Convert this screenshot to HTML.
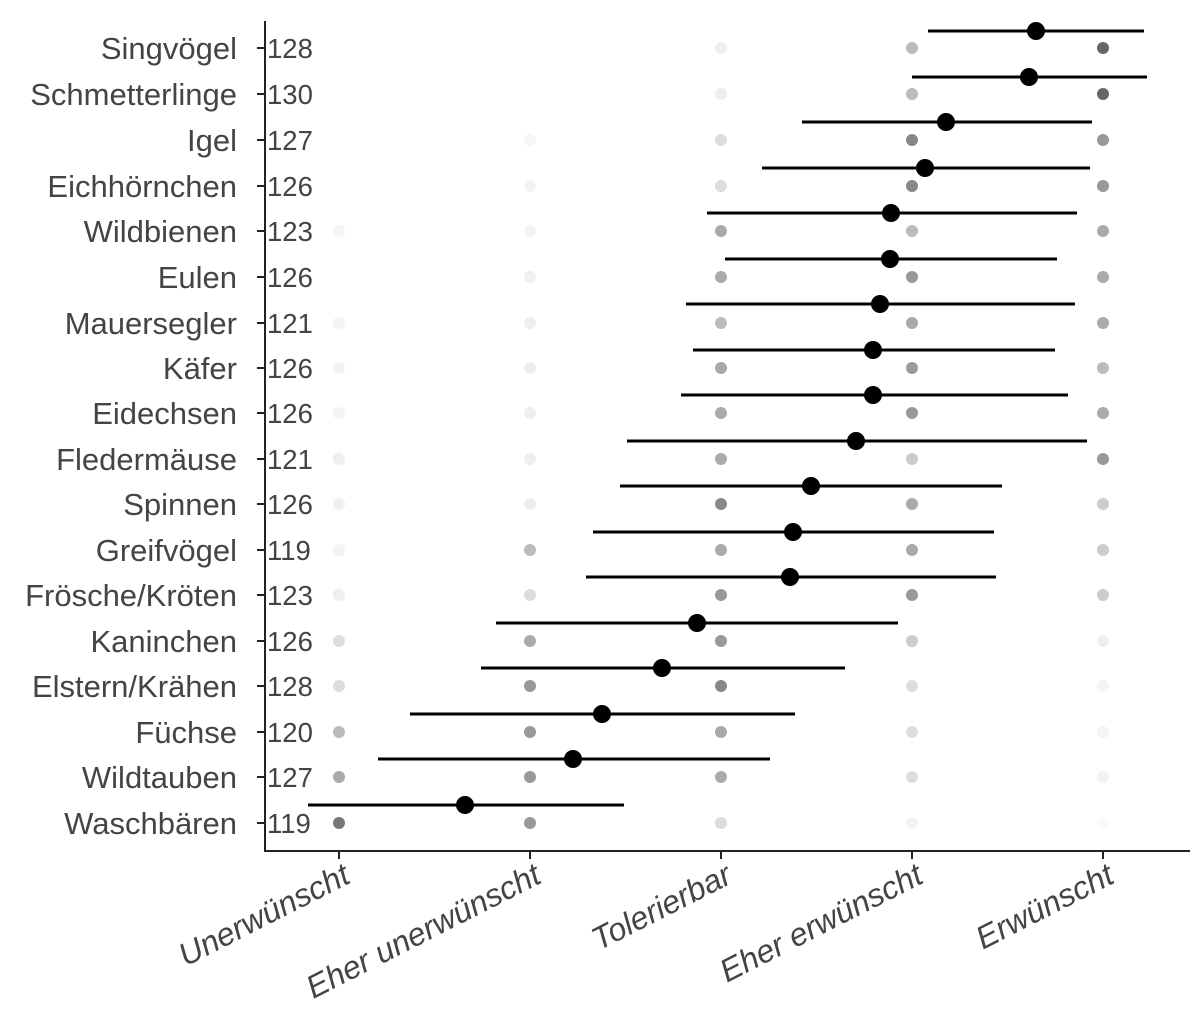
<!DOCTYPE html>
<html><head><meta charset="utf-8"><style>
html,body{margin:0;padding:0;background:#fff;}
svg{display:block;}
.n{font-family:"Liberation Sans",sans-serif;font-size:31px;fill:#444;text-anchor:end;}
.c{font-family:"Liberation Sans",sans-serif;font-size:27.5px;fill:#444;}
.x{font-family:"Liberation Sans",sans-serif;font-size:32px;fill:#444;font-style:italic;text-anchor:end;}
</style></head><body>
<svg width="1200" height="1013" viewBox="0 0 1200 1013" xmlns="http://www.w3.org/2000/svg">
<g stroke="#222" stroke-width="2">
<line x1="265" y1="21" x2="265" y2="852"/>
<line x1="264" y1="851" x2="1190" y2="851"/>
<line x1="339" y1="851" x2="339" y2="859"/><line x1="530" y1="851" x2="530" y2="859"/><line x1="721" y1="851" x2="721" y2="859"/><line x1="912" y1="851" x2="912" y2="859"/><line x1="1103" y1="851" x2="1103" y2="859"/>
<line x1="257" y1="48" x2="265" y2="48"/><line x1="257" y1="94" x2="265" y2="94"/><line x1="257" y1="140" x2="265" y2="140"/><line x1="257" y1="186" x2="265" y2="186"/><line x1="257" y1="231" x2="265" y2="231"/><line x1="257" y1="277" x2="265" y2="277"/><line x1="257" y1="323" x2="265" y2="323"/><line x1="257" y1="368" x2="265" y2="368"/><line x1="257" y1="413" x2="265" y2="413"/><line x1="257" y1="459" x2="265" y2="459"/><line x1="257" y1="504" x2="265" y2="504"/><line x1="257" y1="550" x2="265" y2="550"/><line x1="257" y1="595" x2="265" y2="595"/><line x1="257" y1="641" x2="265" y2="641"/><line x1="257" y1="686" x2="265" y2="686"/><line x1="257" y1="732" x2="265" y2="732"/><line x1="257" y1="777" x2="265" y2="777"/><line x1="257" y1="823" x2="265" y2="823"/>
</g>
<g>
<text class="n" x="237" y="59">Singvögel</text><text class="c" x="267" y="58">128</text>
<text class="n" x="237" y="105">Schmetterlinge</text><text class="c" x="267" y="104">130</text>
<text class="n" x="237" y="151">Igel</text><text class="c" x="267" y="150">127</text>
<text class="n" x="237" y="197">Eichhörnchen</text><text class="c" x="267" y="196">126</text>
<text class="n" x="237" y="242">Wildbienen</text><text class="c" x="267" y="241">123</text>
<text class="n" x="237" y="288">Eulen</text><text class="c" x="267" y="287">126</text>
<text class="n" x="237" y="334">Mauersegler</text><text class="c" x="267" y="333">121</text>
<text class="n" x="237" y="379">Käfer</text><text class="c" x="267" y="378">126</text>
<text class="n" x="237" y="424">Eidechsen</text><text class="c" x="267" y="423">126</text>
<text class="n" x="237" y="470">Fledermäuse</text><text class="c" x="267" y="469">121</text>
<text class="n" x="237" y="515">Spinnen</text><text class="c" x="267" y="514">126</text>
<text class="n" x="237" y="561">Greifvögel</text><text class="c" x="267" y="560">119</text>
<text class="n" x="237" y="606">Frösche/Kröten</text><text class="c" x="267" y="605">123</text>
<text class="n" x="237" y="652">Kaninchen</text><text class="c" x="267" y="651">126</text>
<text class="n" x="237" y="697">Elstern/Krähen</text><text class="c" x="267" y="696">128</text>
<text class="n" x="237" y="743">Füchse</text><text class="c" x="267" y="742">120</text>
<text class="n" x="237" y="788">Wildtauben</text><text class="c" x="267" y="787">127</text>
<text class="n" x="237" y="834">Waschbären</text><text class="c" x="267" y="833">119</text>
</g>
<g>
<text class="x" transform="translate(352,882) rotate(-27)">Unerwünscht</text>
<text class="x" transform="translate(543,882) rotate(-27)">Eher unerwünscht</text>
<text class="x" transform="translate(734,882) rotate(-27)">Tolerierbar</text>
<text class="x" transform="translate(925,882) rotate(-27)">Eher erwünscht</text>
<text class="x" transform="translate(1116,882) rotate(-27)">Erwünscht</text>
</g>
<g>
<circle cx="721" cy="48" r="6" fill="#eee"/><circle cx="912" cy="48" r="6" fill="#bbb"/><circle cx="1103" cy="48" r="6" fill="#666"/>
<circle cx="721" cy="94" r="6" fill="#eee"/><circle cx="912" cy="94" r="6" fill="#bbb"/><circle cx="1103" cy="94" r="6" fill="#666"/>
<circle cx="530" cy="140" r="6" fill="#f5f5f5"/><circle cx="721" cy="140" r="6" fill="#ddd"/><circle cx="912" cy="140" r="6" fill="#888"/><circle cx="1103" cy="140" r="6" fill="#999"/>
<circle cx="530" cy="186" r="6" fill="#f3f3f3"/><circle cx="721" cy="186" r="6" fill="#ddd"/><circle cx="912" cy="186" r="6" fill="#888"/><circle cx="1103" cy="186" r="6" fill="#999"/>
<circle cx="339" cy="231" r="6" fill="#f5f5f5"/><circle cx="530" cy="231" r="6" fill="#f3f3f3"/><circle cx="721" cy="231" r="6" fill="#aaa"/><circle cx="912" cy="231" r="6" fill="#bbb"/><circle cx="1103" cy="231" r="6" fill="#aaa"/>
<circle cx="530" cy="277" r="6" fill="#f0f0f0"/><circle cx="721" cy="277" r="6" fill="#aaa"/><circle cx="912" cy="277" r="6" fill="#999"/><circle cx="1103" cy="277" r="6" fill="#aaa"/>
<circle cx="339" cy="323" r="6" fill="#f3f3f3"/><circle cx="530" cy="323" r="6" fill="#eee"/><circle cx="721" cy="323" r="6" fill="#bbb"/><circle cx="912" cy="323" r="6" fill="#aaa"/><circle cx="1103" cy="323" r="6" fill="#aaa"/>
<circle cx="339" cy="368" r="6" fill="#f3f3f3"/><circle cx="530" cy="368" r="6" fill="#eee"/><circle cx="721" cy="368" r="6" fill="#aaa"/><circle cx="912" cy="368" r="6" fill="#999"/><circle cx="1103" cy="368" r="6" fill="#bbb"/>
<circle cx="339" cy="413" r="6" fill="#f3f3f3"/><circle cx="530" cy="413" r="6" fill="#eee"/><circle cx="721" cy="413" r="6" fill="#aaa"/><circle cx="912" cy="413" r="6" fill="#999"/><circle cx="1103" cy="413" r="6" fill="#aaa"/>
<circle cx="339" cy="459" r="6" fill="#eee"/><circle cx="530" cy="459" r="6" fill="#eee"/><circle cx="721" cy="459" r="6" fill="#aaa"/><circle cx="912" cy="459" r="6" fill="#ccc"/><circle cx="1103" cy="459" r="6" fill="#999"/>
<circle cx="339" cy="504" r="6" fill="#f0f0f0"/><circle cx="530" cy="504" r="6" fill="#eee"/><circle cx="721" cy="504" r="6" fill="#888"/><circle cx="912" cy="504" r="6" fill="#aaa"/><circle cx="1103" cy="504" r="6" fill="#ccc"/>
<circle cx="339" cy="550" r="6" fill="#f3f3f3"/><circle cx="530" cy="550" r="6" fill="#bbb"/><circle cx="721" cy="550" r="6" fill="#aaa"/><circle cx="912" cy="550" r="6" fill="#aaa"/><circle cx="1103" cy="550" r="6" fill="#ccc"/>
<circle cx="339" cy="595" r="6" fill="#eee"/><circle cx="530" cy="595" r="6" fill="#ddd"/><circle cx="721" cy="595" r="6" fill="#999"/><circle cx="912" cy="595" r="6" fill="#999"/><circle cx="1103" cy="595" r="6" fill="#ccc"/>
<circle cx="339" cy="641" r="6" fill="#ddd"/><circle cx="530" cy="641" r="6" fill="#aaa"/><circle cx="721" cy="641" r="6" fill="#999"/><circle cx="912" cy="641" r="6" fill="#ccc"/><circle cx="1103" cy="641" r="6" fill="#eee"/>
<circle cx="339" cy="686" r="6" fill="#ddd"/><circle cx="530" cy="686" r="6" fill="#999"/><circle cx="721" cy="686" r="6" fill="#888"/><circle cx="912" cy="686" r="6" fill="#ddd"/><circle cx="1103" cy="686" r="6" fill="#f3f3f3"/>
<circle cx="339" cy="732" r="6" fill="#bbb"/><circle cx="530" cy="732" r="6" fill="#999"/><circle cx="721" cy="732" r="6" fill="#aaa"/><circle cx="912" cy="732" r="6" fill="#ddd"/><circle cx="1103" cy="732" r="6" fill="#f5f5f5"/>
<circle cx="339" cy="777" r="6" fill="#aaa"/><circle cx="530" cy="777" r="6" fill="#999"/><circle cx="721" cy="777" r="6" fill="#aaa"/><circle cx="912" cy="777" r="6" fill="#ddd"/><circle cx="1103" cy="777" r="6" fill="#f3f3f3"/>
<circle cx="339" cy="823" r="6" fill="#777"/><circle cx="530" cy="823" r="6" fill="#999"/><circle cx="721" cy="823" r="6" fill="#ddd"/><circle cx="912" cy="823" r="6" fill="#f3f3f3"/><circle cx="1103" cy="823" r="6" fill="#fafafa"/>
</g>
<g stroke="#000" stroke-width="3">
<line x1="928" y1="31" x2="1144" y2="31"/>
<line x1="912" y1="77" x2="1147" y2="77"/>
<line x1="802" y1="122" x2="1092" y2="122"/>
<line x1="762" y1="168" x2="1090" y2="168"/>
<line x1="707" y1="213" x2="1077" y2="213"/>
<line x1="725" y1="259" x2="1057" y2="259"/>
<line x1="686" y1="304" x2="1075" y2="304"/>
<line x1="693" y1="350" x2="1055" y2="350"/>
<line x1="681" y1="395" x2="1068" y2="395"/>
<line x1="627" y1="441" x2="1087" y2="441"/>
<line x1="620" y1="486" x2="1002" y2="486"/>
<line x1="593" y1="532" x2="994" y2="532"/>
<line x1="586" y1="577" x2="996" y2="577"/>
<line x1="496" y1="623" x2="898" y2="623"/>
<line x1="481" y1="668" x2="845" y2="668"/>
<line x1="410" y1="714" x2="795" y2="714"/>
<line x1="378" y1="759" x2="770" y2="759"/>
<line x1="308" y1="805" x2="624" y2="805"/>
</g>
<g fill="#000">
<circle cx="1036" cy="31" r="9"/><circle cx="1029" cy="77" r="9"/><circle cx="946" cy="122" r="9"/><circle cx="925" cy="168" r="9"/><circle cx="891" cy="213" r="9"/><circle cx="890" cy="259" r="9"/><circle cx="880" cy="304" r="9"/><circle cx="873" cy="350" r="9"/><circle cx="873" cy="395" r="9"/><circle cx="856" cy="441" r="9"/><circle cx="811" cy="486" r="9"/><circle cx="793" cy="532" r="9"/><circle cx="790" cy="577" r="9"/><circle cx="697" cy="623" r="9"/><circle cx="662" cy="668" r="9"/><circle cx="602" cy="714" r="9"/><circle cx="573" cy="759" r="9"/><circle cx="465" cy="805" r="9"/>
</g>
</svg>
</body></html>
